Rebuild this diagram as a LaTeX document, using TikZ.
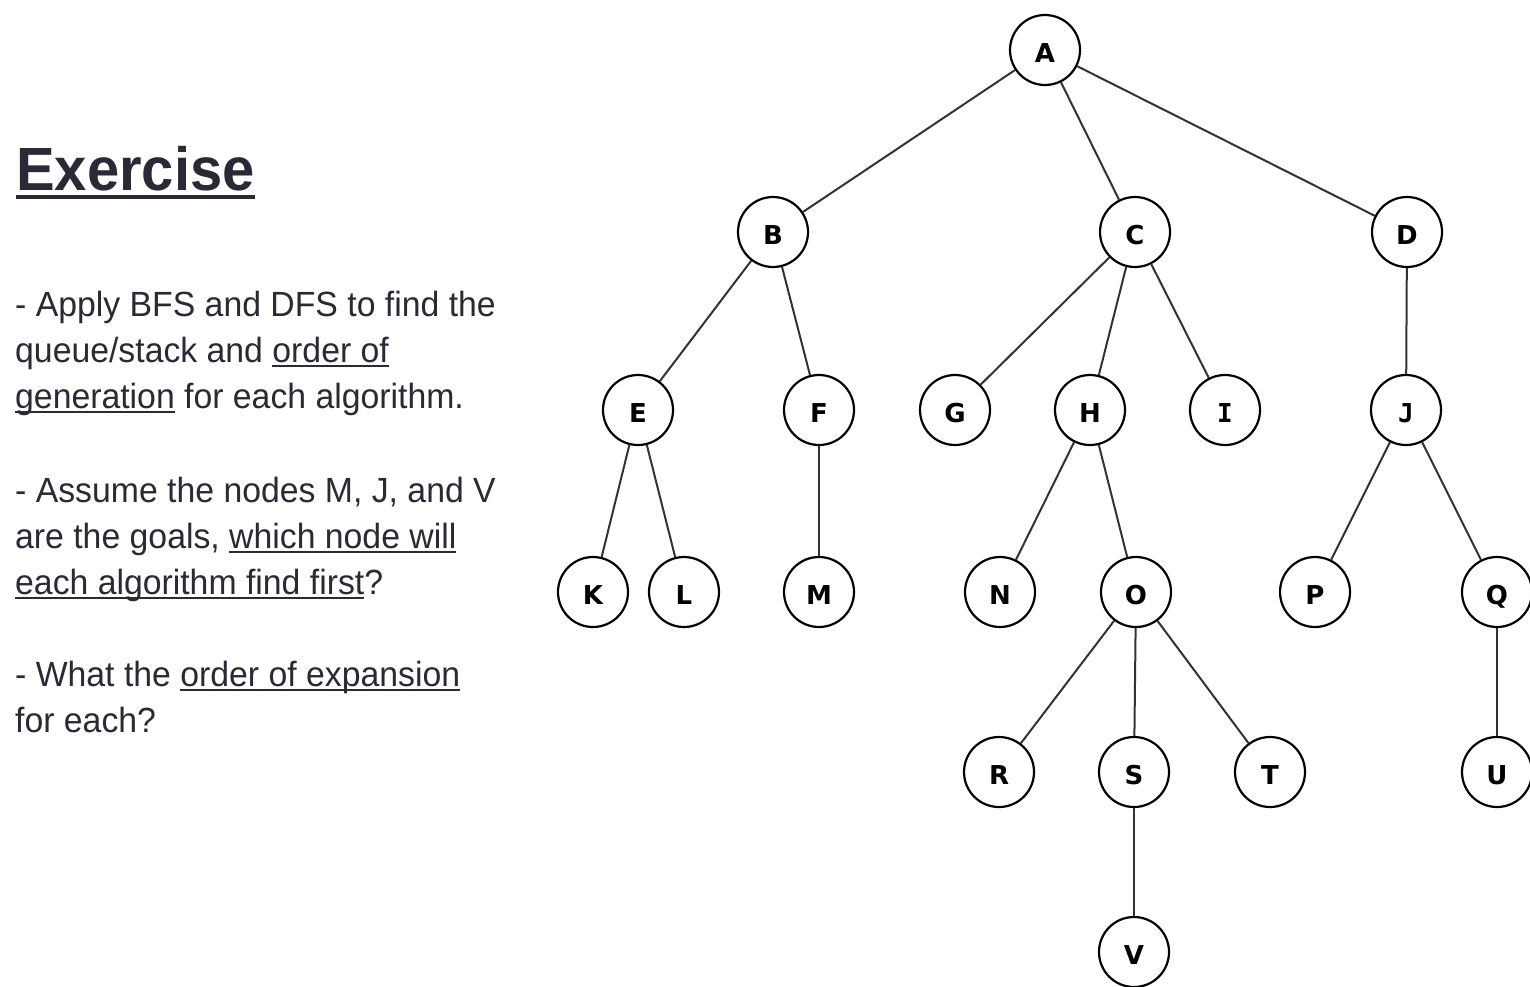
\documentclass[tikz,border=0pt]{standalone}
\usepackage{fontspec}
\setmainfont{Liberation Sans}
\newfontfamily\bodyfont[FakeStretch=0.965]{Liberation Sans}
\newfontfamily\titlefont[FakeStretch=0.95]{Liberation Sans}
\newfontfamily\nodefont{DejaVu Sans}
\newfontfamily\nodemono{DejaVu Sans Mono}
\definecolor{txt}{HTML}{2A2A36}
\definecolor{edgec}{HTML}{333333}
\newcommand\myul[1]{\setbox0\hbox{#1}\rlap{\rule[-5pt]{\wd0}{1.8pt}}\box0{}}
\newcommand\mytul[1]{\setbox0\hbox{#1}\rlap{\rule[-8.5pt]{\wd0}{4pt}}\box0{}}
\tikzset{
  tn/.style={circle, draw=black, line width=2.2pt, minimum size=70pt, inner sep=0pt,
    text height=24pt, text depth=0pt,
    font=\nodefont\bfseries\fontsize{26}{26}\selectfont},
  tnm/.style={tn, font=\nodemono\bfseries\fontsize{26}{26}\selectfont},
  tedge/.style={draw=edgec, line width=2pt},
  bodyline/.style={anchor=base west, inner sep=0pt, text=txt,
    font=\bodyfont\fontsize{35}{40}\selectfont},
}
\begin{document}
\begin{tikzpicture}[x=1pt,y=-1pt]
\useasboundingbox[fill=white] (0,0) rectangle (1530,986);
% text
\node[anchor=base west, inner sep=0pt, text=txt, font=\titlefont\bfseries\fontsize{61}{70}\selectfont] (title) at (16,190) {\mytul{Exercise}};
\node[bodyline] (l1) at (15,316) {- Apply BFS and DFS to find the};
\node[bodyline] (l2) at (15,362) {queue/stack and \myul{order of}};
\node[bodyline] (l3) at (15,408) {\myul{generation} for each algorithm.};
\node[bodyline] (l4) at (15,502) {- Assume the nodes M, J, and V};
\node[bodyline] (l5) at (15,548) {are the goals, \myul{which node will}};
\node[bodyline] (l6) at (15,594) {\myul{each algorithm find first}?};
\node[bodyline] (l7) at (15,686) {- What the \myul{order of expansion}};
\node[bodyline] (l8) at (15,732) {for each?};
% tree nodes
\node[tn] (A) at (1045,50) {A};
\node[tn] (B) at (773,232) {B};
\node[tn] (C) at (1135,232) {C};
\node[tn] (D) at (1407,232) {D};
\node[tn] (E) at (638,410) {E};
\node[tn] (F) at (819,410) {F};
\node[tn] (G) at (955,410) {G};
\node[tn] (H) at (1090,410) {H};
\node[tnm] (I) at (1225,410) {I};
\node[tnm] (J) at (1406,410) {J};
\node[tn] (K) at (593,592) {K};
\node[tn] (L) at (684,592) {L};
\node[tn] (M) at (819,592) {M};
\node[tn] (N) at (1000,592) {N};
\node[tn] (O) at (1136,592) {O};
\node[tn] (P) at (1315,592) {P};
\node[tn] (Q) at (1497,592) {Q};
\node[tn] (R) at (999,772) {R};
\node[tn] (S) at (1134,772) {S};
\node[tn] (T) at (1270,772) {T};
\node[tn] (U) at (1497,772) {U};
\node[tn] (V) at (1134,952) {V};
% edges
\foreach \p/\c in {A/B,A/C,A/D,B/E,B/F,C/G,C/H,C/I,D/J,E/K,E/L,F/M,H/N,H/O,J/P,J/Q,O/R,O/S,O/T,Q/U,S/V}
  \draw[tedge] (\p) -- (\c);
\end{tikzpicture}
\end{document}
